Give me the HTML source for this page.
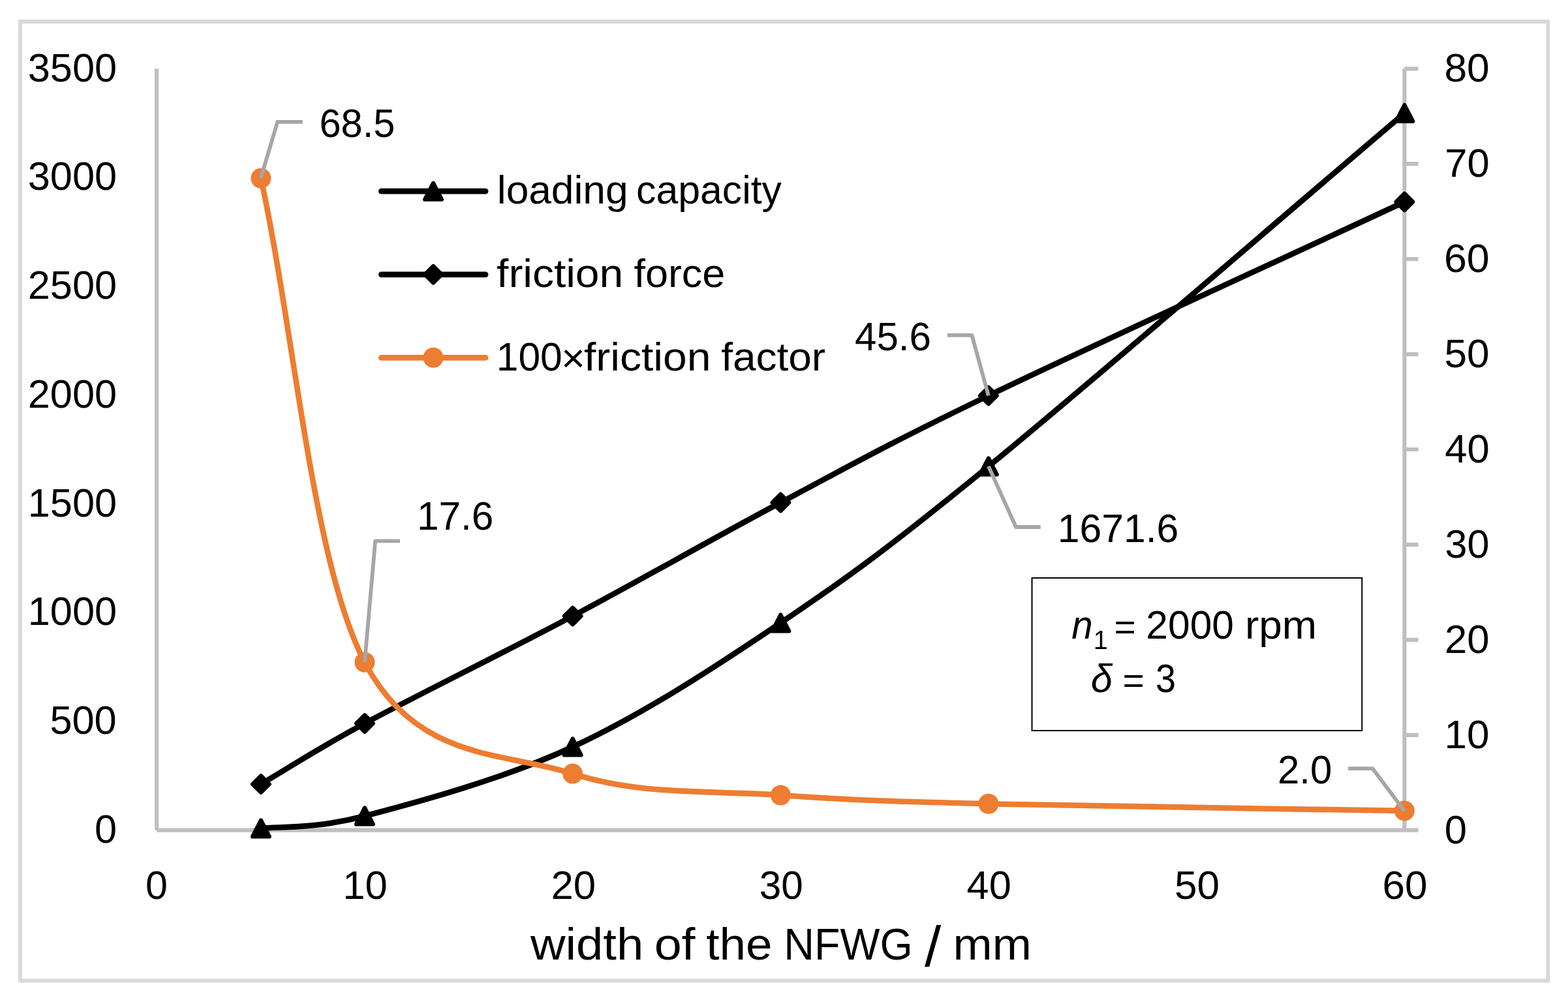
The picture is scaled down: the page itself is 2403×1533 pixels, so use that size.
<!DOCTYPE html>
<html lang="en">
<head>
<meta charset="utf-8">
<title>Loading capacity, friction force and friction factor vs. width of the NFWG</title>
<style>
html,body{margin:0;padding:0;background:#fff;}
svg{display:block;}
text{font-family:"Liberation Sans",sans-serif;fill:#000;white-space:pre;}
</style>
</head>
<body>
<svg width="2403" height="1533" viewBox="0 0 2403 1533">
<rect x="0" y="0" width="2403" height="1533" fill="#ffffff"/>
<rect x="30.9" y="33" width="2341.3" height="1470.6" fill="none" stroke="#D9D9D9" stroke-width="6" stroke-linejoin="round"/>
<g stroke="#BFBFBF" stroke-width="6.2" fill="none">
<path d="M240.1 105.3V1272.7"/>
<path d="M240.1 1272.7H2152.4"/>
<path d="M2152.4 105.3V1272.7"/>
<path d="M2152.4 1272.7H2173.6M2152.4 1126.8H2173.6M2152.4 980.9H2173.6M2152.4 834.9H2173.6M2152.4 689.0H2173.6M2152.4 543.1H2173.6M2152.4 397.2H2173.6M2152.4 251.2H2173.6M2152.4 105.3H2173.6"/>
</g>
<path d="M399.90 1270.00 C425.68 1266.92 481.44 1271.27 558.90 1251.00 C638.52 1230.17 771.41 1194.35 877.65 1145.00 C983.89 1095.65 1090.14 1026.57 1196.35 954.90 C1299.25 885.46 1360.52 841.18 1514.90 715.00 C1674.24 584.77 1939.90 354.00 2152.40 173.50" fill="none" stroke="#000" stroke-width="8.6" stroke-linecap="round" stroke-linejoin="round"/>
<g fill="#000" stroke="#000" stroke-width="6.2" stroke-linejoin="round"><path d="M399.90 1257.50L412.75 1282.50H387.05Z"/><path d="M558.90 1238.50L571.75 1263.50H546.05Z"/><path d="M877.65 1132.50L890.50 1157.50H864.80Z"/><path d="M1196.35 942.40L1209.20 967.40H1183.50Z"/><path d="M1514.90 702.50L1527.75 727.50H1502.05Z"/><path d="M2152.40 161.00L2165.25 186.00H2139.55Z"/></g>
<path d="M399.90 1202.10 C452.90 1171.07 479.27 1151.93 558.90 1109.00 C638.52 1066.07 771.41 1000.93 877.65 944.50 C983.89 888.07 1090.14 826.73 1196.35 770.40 C1302.56 714.07 1355.56 683.32 1514.90 606.50 C1674.24 529.68 1939.90 408.50 2152.40 309.50" fill="none" stroke="#000" stroke-width="8.6" stroke-linecap="round" stroke-linejoin="round"/>
<g fill="#000" stroke="#000" stroke-width="6.2" stroke-linejoin="round"><path d="M399.90 1189.30L412.70 1202.10L399.90 1214.90L387.10 1202.10Z"/><path d="M558.90 1096.20L571.70 1109.00L558.90 1121.80L546.10 1109.00Z"/><path d="M877.65 931.70L890.45 944.50L877.65 957.30L864.85 944.50Z"/><path d="M1196.35 757.60L1209.15 770.40L1196.35 783.20L1183.55 770.40Z"/><path d="M1514.90 593.70L1527.70 606.50L1514.90 619.30L1502.10 606.50Z"/><path d="M2152.40 296.70L2165.20 309.50L2152.40 322.30L2139.60 309.50Z"/></g>
<path d="M399.90 273.20 C452.90 520.57 479.27 863.15 558.90 1015.30 C638.52 1167.45 771.41 1152.15 877.65 1186.10 C983.89 1220.05 1090.14 1211.30 1196.35 1219.00 C1302.56 1226.70 1355.56 1228.32 1514.90 1232.30 C1674.24 1236.28 1939.90 1239.37 2152.40 1242.90" fill="none" stroke="#ED7D31" stroke-width="8.6" stroke-linecap="round" stroke-linejoin="round"/>
<g fill="#ED7D31"><circle cx="399.9" cy="273.2" r="15.5"/><circle cx="558.9" cy="1015.3" r="15.5"/><circle cx="877.6" cy="1186.1" r="15.5"/><circle cx="1196.3" cy="1219.0" r="15.5"/><circle cx="1514.9" cy="1232.3" r="15.5"/><circle cx="2152.4" cy="1242.9" r="15.5"/></g>
<g fill="none" stroke="#A6A6A6" stroke-width="5.85" stroke-linejoin="round">
<path d="M399.6 273.2L425.3 186.9L463.8 186.9"/>
<path d="M558.9 1015.3L575.1 829.4L613.1 829.4"/>
<path d="M1514.8 606.5L1489.5 513.9L1451.9 513.9"/>
<path d="M1514.9 714.9L1557.0 808.0L1594.8 808.0"/>
<path d="M2152.2 1242.9L2103.4 1178.1L2066.1 1178.1"/>
</g>
<path d="M584.4 293.2H744" stroke="#000" stroke-width="8.8" stroke-linecap="round" fill="none"/>
<g fill="#000" stroke="#000" stroke-width="6.2" stroke-linejoin="round"><path d="M664.00 280.70L676.85 305.70H651.15Z"/></g>
<path d="M584.4 420.8H744" stroke="#000" stroke-width="8.8" stroke-linecap="round" fill="none"/>
<g fill="#000" stroke="#000" stroke-width="6.2" stroke-linejoin="round"><path d="M664.00 408.00L676.80 420.80L664.00 433.60L651.20 420.80Z"/></g>
<path d="M584.4 548.3H744" stroke="#ED7D31" stroke-width="8.8" stroke-linecap="round" fill="none"/>
<g fill="#ED7D31"><circle cx="664.0" cy="548.3" r="15.5"/></g>
<rect x="1581.5" y="886" width="505.8" height="234" fill="#fff" stroke="#000" stroke-width="2"/>
<text x="144.89" y="1291.90" font-size="61.8" textLength="34.07" lengthAdjust="spacingAndGlyphs">0</text>
<text x="76.51" y="1125.13" font-size="61.8" textLength="102.18" lengthAdjust="spacingAndGlyphs">500</text>
<text x="42.81" y="958.36" font-size="61.8" textLength="136.25" lengthAdjust="spacingAndGlyphs">1000</text>
<text x="42.81" y="791.59" font-size="61.8" textLength="136.25" lengthAdjust="spacingAndGlyphs">1500</text>
<text x="42.81" y="624.81" font-size="61.8" textLength="136.25" lengthAdjust="spacingAndGlyphs">2000</text>
<text x="42.81" y="458.04" font-size="61.8" textLength="136.25" lengthAdjust="spacingAndGlyphs">2500</text>
<text x="42.81" y="291.27" font-size="61.8" textLength="136.25" lengthAdjust="spacingAndGlyphs">3000</text>
<text x="42.81" y="124.50" font-size="61.8" textLength="136.25" lengthAdjust="spacingAndGlyphs">3500</text>
<text x="2213.81" y="1292.50" font-size="61.8" textLength="34.26" lengthAdjust="spacingAndGlyphs">0</text>
<text x="2213.58" y="1146.58" font-size="61.8" textLength="69.09" lengthAdjust="spacingAndGlyphs">10</text>
<text x="2214.00" y="1000.65" font-size="61.8" textLength="68.64" lengthAdjust="spacingAndGlyphs">20</text>
<text x="2214.62" y="854.73" font-size="61.8" textLength="68.00" lengthAdjust="spacingAndGlyphs">30</text>
<text x="2214.20" y="708.80" font-size="61.8" textLength="68.43" lengthAdjust="spacingAndGlyphs">40</text>
<text x="2213.59" y="562.88" font-size="61.8" textLength="69.08" lengthAdjust="spacingAndGlyphs">50</text>
<text x="2212.96" y="416.95" font-size="61.8" textLength="69.73" lengthAdjust="spacingAndGlyphs">60</text>
<text x="2214.21" y="271.03" font-size="61.8" textLength="68.42" lengthAdjust="spacingAndGlyphs">70</text>
<text x="2213.38" y="125.10" font-size="61.8" textLength="69.30" lengthAdjust="spacingAndGlyphs">80</text>
<text x="222.93" y="1378.10" font-size="61.8" textLength="33.92" lengthAdjust="spacingAndGlyphs">0</text>
<text x="525.32" y="1378.10" font-size="61.8" textLength="68.52" lengthAdjust="spacingAndGlyphs">10</text>
<text x="844.40" y="1378.10" font-size="61.8" textLength="68.64" lengthAdjust="spacingAndGlyphs">20</text>
<text x="1163.85" y="1378.10" font-size="61.8" textLength="67.03" lengthAdjust="spacingAndGlyphs">30</text>
<text x="1481.61" y="1378.10" font-size="61.8" textLength="68.22" lengthAdjust="spacingAndGlyphs">40</text>
<text x="1799.99" y="1378.10" font-size="61.8" textLength="69.08" lengthAdjust="spacingAndGlyphs">50</text>
<text x="2118.59" y="1378.10" font-size="61.8" textLength="69.08" lengthAdjust="spacingAndGlyphs">60</text>
<text x="489.41" y="210.40" font-size="61.8" textLength="115.99" lengthAdjust="spacingAndGlyphs">68.5</text>
<text x="639.02" y="811.90" font-size="61.8" textLength="117.41" lengthAdjust="spacingAndGlyphs">17.6</text>
<text x="1310.03" y="537.00" font-size="61.8" textLength="116.99" lengthAdjust="spacingAndGlyphs">45.6</text>
<text x="1620.69" y="831.20" font-size="61.8" textLength="185.67" lengthAdjust="spacingAndGlyphs">1671.6</text>
<text x="1957.89" y="1201.10" font-size="61.8" textLength="83.44" lengthAdjust="spacingAndGlyphs">2.0</text>
<text xml:space="preserve"><tspan x="761.82" y="311.60" font-size="61" textLength="200.69" lengthAdjust="spacingAndGlyphs">loading</tspan> <tspan x="975.11" y="311.60" font-size="61" textLength="222.87" lengthAdjust="spacingAndGlyphs">capacity</tspan></text>
<text xml:space="preserve"><tspan x="761.12" y="439.70" font-size="61" textLength="194.05" lengthAdjust="spacingAndGlyphs">friction</tspan> <tspan x="971.47" y="439.70" font-size="61" textLength="139.84" lengthAdjust="spacingAndGlyphs">force</tspan></text>
<text xml:space="preserve"><tspan x="760.80" y="567.80" font-size="61.8" textLength="100.96" lengthAdjust="spacingAndGlyphs">100</tspan><tspan x="859.93" y="570.20" font-size="61" textLength="36.86" lengthAdjust="spacingAndGlyphs">×</tspan><tspan x="895.02" y="567.80" font-size="61" textLength="194.46" lengthAdjust="spacingAndGlyphs">friction</tspan> <tspan x="1105.15" y="567.80" font-size="61" textLength="160.04" lengthAdjust="spacingAndGlyphs">factor</tspan></text>
<text xml:space="preserve"><tspan x="813.00" y="1471.10" font-size="68" textLength="173.18" lengthAdjust="spacingAndGlyphs">width</tspan> <tspan x="1002.67" y="1471.10" font-size="68" textLength="62.92" lengthAdjust="spacingAndGlyphs">of</tspan> <tspan x="1082.33" y="1471.10" font-size="68" textLength="101.18" lengthAdjust="spacingAndGlyphs">the</tspan> <tspan x="1201.30" y="1471.10" font-size="68" textLength="197.39" lengthAdjust="spacingAndGlyphs">NFWG</tspan> <tspan x="1417.10" y="1480.80" font-size="88" textLength="25.17" lengthAdjust="spacingAndGlyphs">/</tspan> <tspan x="1460.59" y="1471.10" font-size="68" textLength="120.27" lengthAdjust="spacingAndGlyphs">mm</tspan></text>
<text xml:space="preserve"><tspan x="1642.24" y="979.20" font-size="61" font-style="italic" textLength="32.47" lengthAdjust="spacingAndGlyphs">n</tspan><tspan x="1675.64" y="994.90" font-size="40" textLength="21.99" lengthAdjust="spacingAndGlyphs">1</tspan> <tspan x="1707.54" y="979.60" font-size="56" textLength="33.31" lengthAdjust="spacingAndGlyphs">=</tspan> <tspan x="1756.36" y="979.20" font-size="61.8" textLength="134.57" lengthAdjust="spacingAndGlyphs">2000</tspan> <tspan x="1908.01" y="979.20" font-size="61" textLength="110.15" lengthAdjust="spacingAndGlyphs">rpm</tspan></text>
<text xml:space="preserve"><tspan x="1671.64" y="1061.10" font-size="61" font-style="italic" textLength="33.16" lengthAdjust="spacingAndGlyphs">δ</tspan> <tspan x="1720.54" y="1061.50" font-size="56" textLength="33.31" lengthAdjust="spacingAndGlyphs">=</tspan> <tspan x="1771.00" y="1061.10" font-size="61.8" textLength="30.94" lengthAdjust="spacingAndGlyphs">3</tspan></text>
</svg>
</body>
</html>
